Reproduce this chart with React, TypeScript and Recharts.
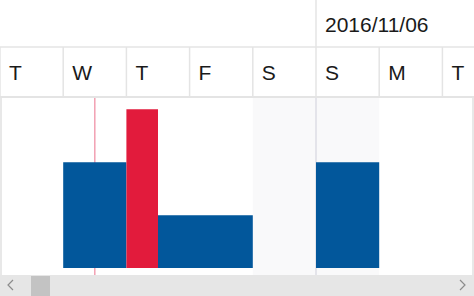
import React from 'react';
import { ComposedChart, XAxis, YAxis, Area, ReferenceArea, ReferenceLine } from 'recharts';

// Day columns (index 0 = Tue 2016/11/01)
const dayTicks = [0, 1, 2, 3, 4, 5, 6, 7];
const dayLabels = ['T', 'W', 'T', 'F', 'S', 'S', 'M', 'T'];
// Week header
const weekTicks = [5];
const weekLabels = ['2016/11/06'];
// Weekend span
const weekendStart = [4];
const weekendEnd = [6];
// Today marker and week boundary
const todayPos = 1.5;
const weekBoundary = 5;
// Blue tasks
const blueStart = [1, 2.5, 5];
const blueEnd = [2, 4, 6];
const blueValue = [2, 1, 2];
// Red tasks
const redStart = [2];
const redEnd = [2.5];
const redValue = [3];

const buildSteps = (starts: number[], ends: number[], values: number[]) => {
  const pts: { d: number; v: number }[] = [];
  starts.forEach((s, i) => {
    pts.push({ d: s, v: values[i] });
    pts.push({ d: ends[i], v: 0 });
  });
  return pts;
};

const blueData = buildSteps(blueStart, blueEnd, blueValue);
const redData = buildSteps(redStart, redEnd, redValue);

const FONT = '"Liberation Sans", Arial, sans-serif';
const LINE = '#e4e4e4';

const DayTick = (props: any) => {
  const { x, y, payload } = props;
  const idx = dayTicks.indexOf(payload.value);
  return (
    <g>
      <line x1={x} x2={x} y1={y - 50} y2={y} stroke={LINE} strokeWidth={1.5} />
      <text x={x + 9} y={y - 17} fontSize={21} fill="#1a1a1a" fontFamily={FONT}>
        {dayLabels[idx]}
      </text>
    </g>
  );
};

const WeekTick = (props: any) => {
  const { x, y, payload } = props;
  const idx = weekTicks.indexOf(payload.value);
  return (
    <g>
      <line x1={x} x2={x} y1={y - 47} y2={y} stroke={LINE} strokeWidth={1.5} />
      <text x={x + 9} y={y - 15} fontSize={21} fill="#1a1a1a" fontFamily={FONT}>
        {weekLabels[idx]}
      </text>
    </g>
  );
};

export default function App() {
  return (
    <div style={{ position: 'absolute', left: 0, top: 0, width: 474, height: 296, background: '#fff' }}>
      <ComposedChart width={474} height={275} margin={{ top: 0, right: 0, bottom: 0, left: 0 }}>
        <XAxis
          xAxisId="day"
          dataKey="d"
          type="number"
          orientation="top"
          domain={[0, 7.5]}
          allowDataOverflow
          ticks={dayTicks}
          interval={0}
          height={50}
          tickSize={0}
          tickMargin={0}
          tickLine={false}
          axisLine={{ stroke: LINE, strokeWidth: 2 }}
          tick={<DayTick />}
        />
        <XAxis
          xAxisId="week"
          dataKey="d"
          type="number"
          orientation="top"
          domain={[0, 7.5]}
          allowDataOverflow
          ticks={weekTicks}
          interval={0}
          height={47}
          tickSize={0}
          tickMargin={0}
          tickLine={false}
          axisLine={{ stroke: LINE, strokeWidth: 1.5 }}
          tick={<WeekTick />}
        />
        <YAxis hide type="number" domain={[-0.13, 3.23]} allowDataOverflow />
        {weekendStart.map((s, i) => (
          <ReferenceArea
            key={'we' + i}
            xAxisId="day"
            x1={s}
            x2={weekendEnd[i]}
            fill="#f9f9fa"
            fillOpacity={1}
            stroke="none"
          />
        ))}
        <ReferenceLine xAxisId="day" x={0} stroke="#e8e8e8" strokeWidth={4} />
        <ReferenceLine xAxisId="day" x={7.5} stroke="#e8e8e8" strokeWidth={4} />
        <ReferenceLine xAxisId="day" x={weekBoundary} stroke="#dcdce4" strokeWidth={1.5} />
        <ReferenceLine xAxisId="day" x={todayPos} stroke="#f2a0b2" strokeWidth={1.5} />
        <Area
          xAxisId="day"
          data={blueData}
          dataKey="v"
          type="stepAfter"
          baseValue={0}
          stroke="none"
          fill="#02579b"
          fillOpacity={1}
          dot={false}
          activeDot={false}
          isAnimationActive={false}
          zIndex={450}
        />
        <Area
          xAxisId="week"
          data={redData}
          dataKey="v"
          type="stepAfter"
          baseValue={0}
          stroke="none"
          fill="#e21b3c"
          fillOpacity={1}
          dot={false}
          activeDot={false}
          isAnimationActive={false}
          zIndex={450}
        />
      </ComposedChart>
      <div style={{ position: 'absolute', left: 0, top: 275, width: 474, height: 21, background: '#e6e6e6' }}>
        <div style={{ position: 'absolute', left: 31, top: 1, width: 19, height: 20, background: '#c3c3c3' }} />
        <svg width={474} height={21} style={{ position: 'absolute', left: 0, top: 0 }}>
          <polyline points="13,5 8,10 13,15" fill="none" stroke="#8c8c8c" strokeWidth={1.2} />
          <polyline points="460,5 465,10 460,15" fill="none" stroke="#8c8c8c" strokeWidth={1.2} />
        </svg>
      </div>
    </div>
  );
}
